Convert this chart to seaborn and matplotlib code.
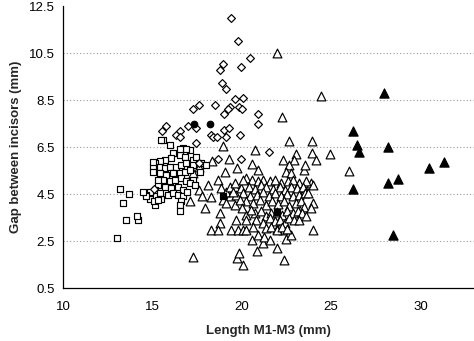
import matplotlib
matplotlib.use("Agg")
import matplotlib.pyplot as plt
import seaborn as sns
import pandas as pd

# ---- data ----
sq_x = [13.04, 13.54, 14.21, 14.16, 13.36, 13.19, 13.67,
        15.59, 15.96, 16.71, 17.08, 16.15, 16.52, 16.80, 16.06, 15.69, 15.41, 15.13, 15.03, 15.03,
        15.41, 15.69, 15.96, 16.34, 16.62, 16.90, 17.27, 17.27, 17.46, 17.74, 18.01,
        15.41, 15.78, 16.15, 16.52, 16.80, 17.08, 17.64,
        15.59, 15.96, 16.24, 16.62, 16.90, 17.27,
        15.32, 15.69, 16.06, 16.43, 16.71, 17.08, 17.36,
        15.13, 15.41, 15.87, 16.15, 16.43, 16.71, 14.85, 14.66,
        16.62, 16.52, 16.52, 16.95, 15.14, 15.48, 14.85, 14.62, 14.47, 15.09, 15.31,
        16.86, 16.52, 15.50, 15.03, 15.30]
sq_y = [2.63, 3.41, 3.41, 3.55, 4.14, 4.72, 4.51,
        6.81, 6.59, 6.45, 6.38, 6.24, 6.17, 6.10, 6.03, 5.96, 5.89, 5.81, 5.67, 5.46,
        5.67, 5.60, 5.67, 5.67, 5.74, 5.81, 5.96, 5.74, 6.10, 5.81, 5.74,
        5.39, 5.32, 5.39, 5.39, 5.46, 5.53, 5.46,
        5.11, 5.04, 5.11, 5.18, 5.04, 5.11,
        4.89, 4.82, 4.75, 4.82, 4.68, 4.96, 4.89,
        4.68, 4.54, 4.47, 4.54, 4.47, 4.40, 4.61, 4.47,
        4.19, 4.05, 3.80, 4.61, 4.04, 4.30, 4.30, 4.40, 4.58, 4.19, 4.26,
        6.44, 6.44, 6.80, 5.85, 5.10]

dia_x = [19.38, 19.77, 20.46, 18.95, 18.76, 19.95, 18.91, 19.13, 20.07, 19.62, 19.32, 19.21,
         19.84, 20.03, 18.48, 17.60, 17.27, 18.99, 20.92, 20.92, 16.99, 17.46, 16.52, 15.78,
         15.56, 16.33, 16.56, 17.46, 18.26, 18.39, 18.59, 18.99, 19.28, 19.11, 19.88,
         21.52, 19.95, 18.69, 17.60, 15.07]
dia_y = [12.00, 11.00, 10.30, 10.04, 9.78, 9.92, 9.24, 8.99, 8.60, 8.53, 8.22, 8.14,
         8.22, 8.11, 8.28, 8.28, 8.11, 7.91, 7.91, 7.49, 7.40, 7.30, 7.20, 7.40,
         7.20, 7.03, 6.95, 6.69, 7.03, 6.95, 6.95, 7.23, 7.30, 6.95, 7.03,
         6.31, 5.98, 5.98, 5.81, 4.74]

circ_x = [17.33, 18.24]
circ_y = [7.50, 7.50]

fsq_x = [18.95, 21.95]
fsq_y = [4.40, 3.75]

tri_x = [22.00, 24.46, 22.25, 23.94, 22.66, 20.75, 24.95, 23.05, 23.94, 24.16, 26.03, 19.28,
         18.31, 17.59, 17.25, 20.55, 19.75, 20.91, 22.32, 22.92, 22.64, 22.47, 22.77, 23.46,
         23.55, 23.87, 23.98, 23.53, 19.06, 18.65, 18.09, 17.60, 17.12, 17.79, 18.29, 17.95,
         18.76, 18.76, 18.26, 18.69, 19.39, 19.79, 20.07, 20.26, 17.27, 19.75, 19.84, 20.07,
         22.36, 21.98, 20.86, 20.55, 21.18, 20.90, 21.24, 21.56, 22.49, 22.77, 23.98, 22.30,
         21.96, 18.95,
         20.25, 20.55, 20.90, 21.18, 21.56, 21.85, 22.21, 22.58, 22.86, 23.23, 23.61,
         19.60, 19.97, 20.40, 20.77, 21.09, 21.37, 21.74, 22.12, 22.45, 22.77, 23.10, 23.42,
         19.32, 19.69, 20.07, 20.44, 20.85, 21.18, 21.52, 21.84, 22.21, 22.53, 22.86, 23.23, 23.53,
         19.60, 20.25, 20.62, 21.00, 21.37, 21.71, 22.02, 22.34, 22.67, 23.01, 23.33, 23.46,
         20.25, 20.72, 21.09, 21.37, 21.65, 21.97, 22.26, 22.53, 22.86, 23.14, 23.38,
         20.81, 21.18, 21.56, 21.84, 22.12, 22.40, 22.67, 22.95, 23.20,
         21.37, 21.65, 21.99, 22.26, 22.53,
         18.85, 19.10, 19.32, 19.51, 19.60, 20.07, 19.88, 20.03, 20.25, 20.53, 20.62, 19.67,
         18.95, 19.13, 23.98, 23.89, 23.61, 23.70]
tri_y = [10.49, 8.69, 7.80, 6.75, 6.75, 6.38, 6.21, 6.21, 6.27, 5.96, 5.50, 5.98,
         5.91, 5.67, 5.39, 5.77, 5.60, 5.53, 5.96, 5.96, 5.74, 5.46, 5.39, 5.53,
         5.74, 4.96, 4.89, 4.68, 5.45, 5.10, 4.89, 4.68, 4.19, 4.40, 4.37, 3.90,
         3.69, 3.29, 2.98, 2.98, 2.98, 2.98, 2.98, 2.98, 1.82, 1.78, 1.99, 1.47,
         1.71, 2.20, 2.10, 2.53, 2.42, 2.77, 2.67, 2.53, 2.58, 2.77, 2.98, 2.98,
         3.01, 6.55,
         5.18, 5.11, 5.04, 5.11, 5.04, 5.11, 4.99, 5.04, 5.11, 4.96, 5.04,
         4.82, 4.75, 4.82, 4.71, 4.89, 4.82, 4.71, 4.82, 4.68, 4.82, 4.75, 4.82,
         4.40, 4.47, 4.54, 4.40, 4.47, 4.57, 4.40, 4.54, 4.40, 4.51, 4.40, 4.47, 4.54,
         4.05, 4.19, 4.12, 4.26, 4.05, 4.19, 4.09, 4.19, 4.00, 4.12, 4.19, 3.97,
         3.62, 3.69, 3.80, 3.58, 3.69, 3.76, 3.62, 3.80, 3.69, 3.80, 3.69,
         3.41, 3.29, 3.48, 3.34, 3.41, 3.27, 3.48, 3.41, 3.41,
         3.05, 3.12, 2.98, 3.12, 3.01,
         4.75, 4.57, 4.82, 4.61, 4.96, 5.11, 4.26, 3.90, 3.41, 3.83, 3.12, 3.41,
         4.26, 4.12, 4.12, 3.90, 3.55, 4.54]

ftri_x = [27.95, 26.25, 26.44, 26.55, 28.21, 31.34, 30.47, 28.73, 28.17, 26.25, 28.45]
ftri_y = [8.79, 7.20, 6.58, 6.31, 6.52, 5.86, 5.60, 5.16, 4.99, 4.72, 2.77]

x_ticks = [10, 15, 20, 25, 30]
y_ticks = [0.5, 2.5, 4.5, 6.5, 8.5, 10.5, 12.5]
x_label = "Length M1-M3 (mm)"
y_label = "Gap between incisors (mm)"

# ---- plot ----
sns.set_style("white")
plt.rcParams['font.family'] = ['Liberation Sans', 'DejaVu Sans']

fig = plt.figure(figsize=(4.74, 3.41), dpi=100)
ax = fig.add_axes([0.133, 0.155, 0.867, 0.827])

for yv in y_ticks[1:-1]:
    ax.axhline(yv, color='#9a9a9a', linestyle=(0, (1, 2)), linewidth=0.8, zorder=0)

common = dict(edgecolor='black', linewidth=0.85, ax=ax, legend=False, zorder=3)
sns.scatterplot(x=tri_x, y=tri_y, marker='^', s=40, facecolor='white', **common)
sns.scatterplot(x=sq_x, y=sq_y, marker='s', s=24, facecolor='white', **common)
sns.scatterplot(x=dia_x, y=dia_y, marker='D', s=16, facecolor='white', **common)
sns.scatterplot(x=circ_x, y=circ_y, marker='o', s=22, facecolor='black', **common)
sns.scatterplot(x=fsq_x, y=fsq_y, marker='s', s=24, facecolor='black', **common)
sns.scatterplot(x=ftri_x, y=ftri_y, marker='^', s=44, facecolor='black', **common)

ax.set_xlim(10, 33)
ax.set_ylim(0.5, 12.5)
ax.set_xticks(x_ticks)
ax.set_yticks(y_ticks)
ax.set_yticklabels([f"{v:.1f}" for v in y_ticks])
ax.tick_params(axis='both', labelsize=9.5, length=3, width=0.8, direction='out',
               colors='black', pad=3)
ax.tick_params(axis='x', pad=6)
for side in ['top', 'right']:
    ax.spines[side].set_visible(False)
for side in ['left', 'bottom']:
    ax.spines[side].set_color('black')
    ax.spines[side].set_linewidth(0.9)

ax.set_xlabel(x_label, fontsize=9.5, fontweight='bold', labelpad=9)
ax.set_ylabel(y_label, fontsize=9.5, fontweight='bold', labelpad=5)

fig.savefig("out.png", dpi=100)
